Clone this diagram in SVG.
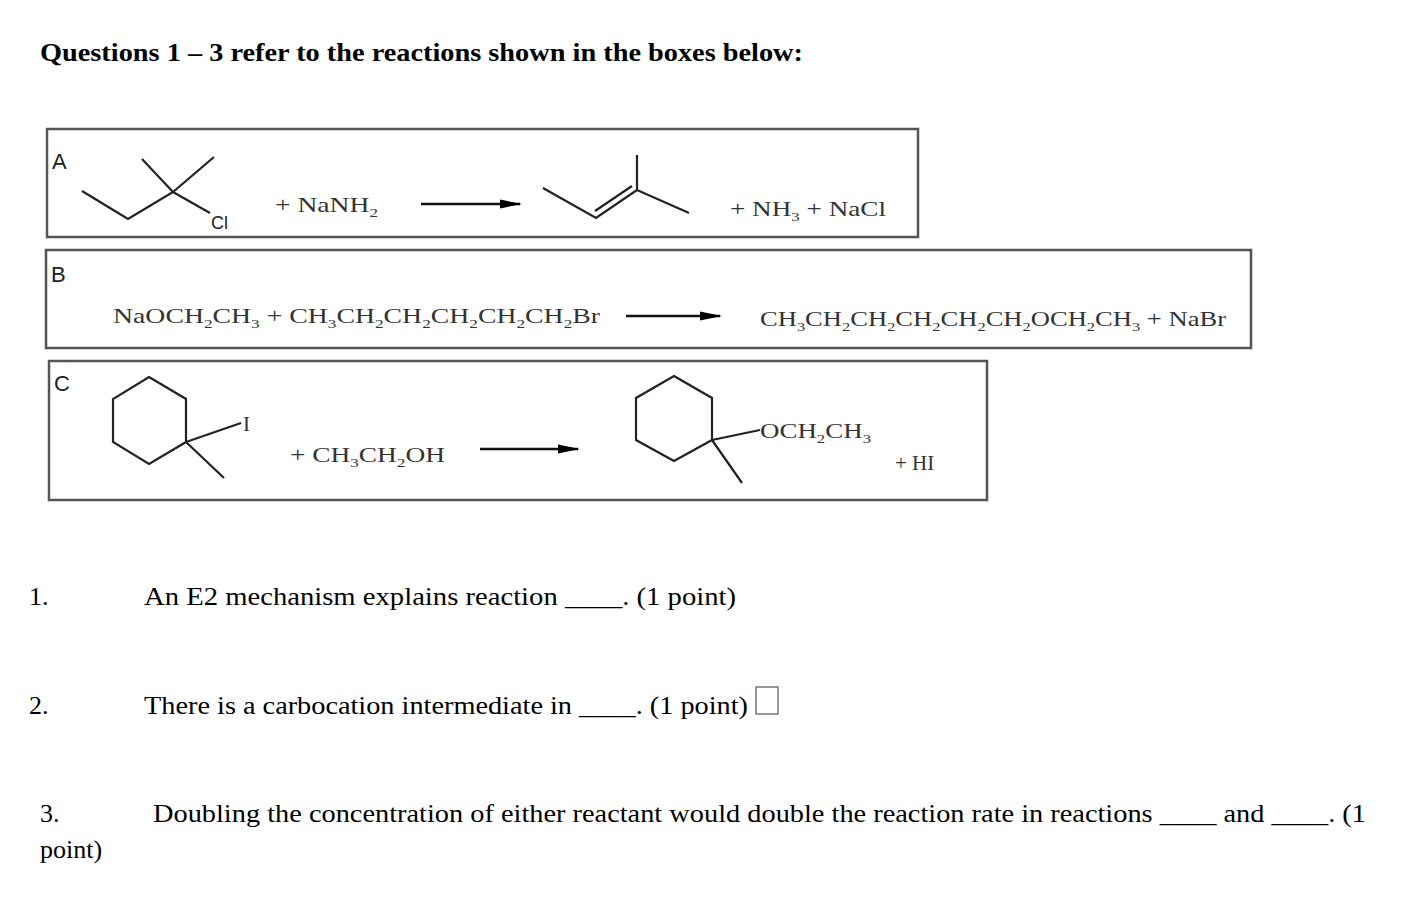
<svg xmlns="http://www.w3.org/2000/svg" width="1402" height="902" viewBox="0 0 1402 902">
<defs>
<marker id="ah" viewBox="0 0 10 10" refX="9" refY="5" markerWidth="9" markerHeight="9" markerUnits="strokeWidth" orient="auto"><path d="M0,3 L10,5 L0,7 z" fill="#000"/></marker>
<style>
.t{font-family:"Liberation Serif",serif;fill:#000}
.s{font-family:"Liberation Sans",sans-serif;fill:#222}
.c{font-family:"Liberation Serif",serif;fill:#333;font-size:21px}
.box{fill:#fff;stroke:#555;stroke-width:2.5}
.b{fill:none;stroke:#222;stroke-width:2.2;stroke-linejoin:miter}
.ar{stroke:#111;stroke-width:2.5;marker-end:url(#ah)}
</style>
</defs>
<rect width="1402" height="902" fill="#fff"/>
<text class="t" x="40" y="61" font-size="26" font-weight="bold" textLength="763" lengthAdjust="spacingAndGlyphs">Questions 1 – 3 refer to the reactions shown in the boxes below:</text>
<g id="boxA">
<rect class="box" x="47" y="129" width="871" height="108"/>
<text class="s" x="52" y="169" font-size="22">A</text>
<path class="b" d="M82,191 L128,219 L173,192 L142,159 M173,192 L214,157 M173,192 L210,213"/>
<text class="s" x="211" y="229" font-size="18">Cl</text>
<text class="c" x="275" y="212" textLength="103" lengthAdjust="spacingAndGlyphs">+ NaNH<tspan font-size="13" dy="5">2</tspan></text>
<path class="b" d="M543,188 L596,218 L637,190 M595,211 L632,186 M637,190 L637,155 M637,190 L689,213"/>
<text class="c" x="730" y="216" textLength="156" lengthAdjust="spacingAndGlyphs">+ NH<tspan font-size="13" dy="5">3</tspan><tspan dy="-5"> + NaCl</tspan></text>
</g>
<g id="boxB">
<rect class="box" x="46" y="250" width="1205" height="98"/>
<text class="s" x="51" y="282" font-size="22">B</text>
<text class="c" x="113" y="323" textLength="487" lengthAdjust="spacingAndGlyphs">NaOCH<tspan font-size="13" dy="5">2</tspan><tspan dy="-5">CH</tspan><tspan font-size="13" dy="5">3</tspan><tspan dy="-5"> +   CH</tspan><tspan font-size="13" dy="5">3</tspan><tspan dy="-5">CH</tspan><tspan font-size="13" dy="5">2</tspan><tspan dy="-5">CH</tspan><tspan font-size="13" dy="5">2</tspan><tspan dy="-5">CH</tspan><tspan font-size="13" dy="5">2</tspan><tspan dy="-5">CH</tspan><tspan font-size="13" dy="5">2</tspan><tspan dy="-5">CH</tspan><tspan font-size="13" dy="5">2</tspan><tspan dy="-5">Br</tspan></text>
<text class="c" x="760" y="326" textLength="466" lengthAdjust="spacingAndGlyphs">CH<tspan font-size="13" dy="5">3</tspan><tspan dy="-5">CH</tspan><tspan font-size="13" dy="5">2</tspan><tspan dy="-5">CH</tspan><tspan font-size="13" dy="5">2</tspan><tspan dy="-5">CH</tspan><tspan font-size="13" dy="5">2</tspan><tspan dy="-5">CH</tspan><tspan font-size="13" dy="5">2</tspan><tspan dy="-5">CH</tspan><tspan font-size="13" dy="5">2</tspan><tspan dy="-5">OCH</tspan><tspan font-size="13" dy="5">2</tspan><tspan dy="-5">CH</tspan><tspan font-size="13" dy="5">3</tspan><tspan dy="-5"> + NaBr</tspan></text>
</g>
<g id="boxC">
<rect class="box" x="49" y="361" width="938" height="139"/>
<text class="s" x="54" y="391" font-size="22">C</text>
<path class="b" d="M149,377 L186,399 L186,442 L149,464 L113,442 L113,399 Z M186,442 L241,423 M186,442 L224,478"/>
<text class="c" x="243" y="431">I</text>
<text class="c" x="290" y="462" textLength="155" lengthAdjust="spacingAndGlyphs">+ CH<tspan font-size="13" dy="5">3</tspan><tspan dy="-5">CH</tspan><tspan font-size="13" dy="5">2</tspan><tspan dy="-5">OH</tspan></text>
<path class="b" d="M674,376 L712,398 L712,440 L674,461 L636,440 L636,398 Z M712,440 L760,430 M712,440 L742,483"/>
<text class="c" x="760" y="438" textLength="111" lengthAdjust="spacingAndGlyphs">OCH<tspan font-size="13" dy="5">2</tspan><tspan dy="-5">CH</tspan><tspan font-size="13" dy="5">3</tspan></text>
<text class="c" x="895" y="470">+ HI</text>
</g>
<g id="connectors">
<line class="ar" x1="421" y1="204" x2="520" y2="204"/>
<line class="ar" x1="626" y1="316" x2="720" y2="316"/>
<line class="ar" x1="480" y1="449" x2="578" y2="449"/>
</g>
<g id="questions" class="t" font-size="26">
<text x="29" y="605">1.</text>
<text x="144" y="605" textLength="592" lengthAdjust="spacingAndGlyphs">An E2 mechanism explains reaction ____.  (1 point)</text>
<text x="29" y="714">2.</text>
<text x="144" y="714" textLength="604" lengthAdjust="spacingAndGlyphs">There is a carbocation intermediate in ____. (1 point)</text>
<rect x="756" y="687" width="22" height="27" fill="none" stroke="#555" stroke-width="1.2"/>
<text x="40" y="822">3.</text>
<text x="153" y="822" textLength="1213" lengthAdjust="spacingAndGlyphs">Doubling the concentration of either reactant would double the reaction rate in reactions ____ and ____. (1</text>
<text x="40" y="858">point)</text>
</g>
</svg>
